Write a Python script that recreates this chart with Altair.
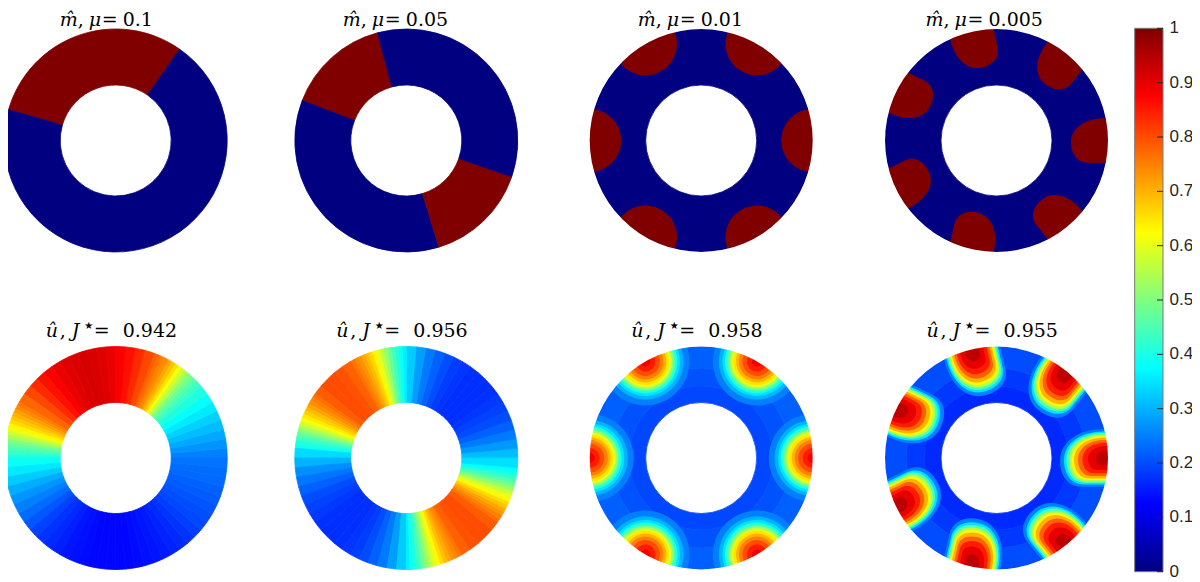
import math
import altair as alt
import pandas as pd

# ------------------------------------------------------------------
# Values
# (angles in degrees, counter-clockwise from the positive x axis)
# ------------------------------------------------------------------
MU_LABELS = ["0.1", "0.05", "0.01", "0.005"]
J_LABELS = ["0.942", "0.956", "0.958", "0.955"]

# panel 1 : m-hat, mu = 0.1  (two sectors)
M1_START = [55, 164]
M1_END = [164, 415]
M1_VALUE = [1, 0]
# panel 2 : m-hat, mu = 0.05 (four sectors)
M2_START = [105, 159, 287, 341]
M2_END = [159, 287, 341, 465]
M2_VALUE = [1, 0, 1, 0]
# panel 3 : m-hat, mu = 0.01 (six half-discs on the outer rim)
M3_BLOB_ANGLE = [0, 60, 120, 180, 240, 300]
M3_BLOB_RADIUS = [0.283] * 6          # in units of the outer radius
# panel 4 : m-hat, mu = 0.005 (seven lobes on the outer rim)
M4_BLOB_ANGLE = [0, 51, 103, 154, 206, 257, 309]
M4_BLOB_DEPTH = [0.332] * 7

# panel 5 : u-hat, angular slices (finer where the field changes quickly)
U5_EDGE = (list(range(0, 40, 5)) + list(range(40, 70, 2)) + list(range(70, 150, 5))
           + list(range(150, 180, 2)) + list(range(180, 361, 5)))
U5_VALUE = [0.25, 0.27, 0.29, 0.31, 0.33, 0.355, 0.38, 0.405,
            0.425, 0.44, 0.46, 0.48, 0.51, 0.545, 0.58, 0.62, 0.655, 0.685, 0.71, 0.735,
            0.75, 0.765, 0.78,
            0.805, 0.835, 0.86, 0.88, 0.895, 0.905, 0.91, 0.915, 0.91, 0.905, 0.895, 0.88,
            0.86, 0.835, 0.805, 0.775,
            0.755, 0.74, 0.72, 0.70, 0.68, 0.66, 0.635, 0.61, 0.575, 0.54, 0.505, 0.475,
            0.45, 0.43, 0.41,
            0.385, 0.355, 0.325, 0.295, 0.27, 0.25, 0.23, 0.21, 0.19, 0.175, 0.165, 0.155,
            0.145, 0.14, 0.135, 0.13, 0.13, 0.13, 0.13, 0.13, 0.135, 0.14, 0.145, 0.15,
            0.158, 0.165, 0.175, 0.185, 0.195, 0.20, 0.208, 0.215, 0.22, 0.228, 0.232, 0.238]

# panel 6 : u-hat
U6_EDGE = (list(range(0, 90, 5)) + list(range(90, 120, 2)) + list(range(120, 145, 5))
           + list(range(145, 175, 2)) + list(range(175, 270, 5)) + list(range(270, 300, 2))
           + list(range(300, 325, 5)) + list(range(325, 355, 2)) + [355, 360])
U6_VALUE = [0.31, 0.275, 0.245, 0.22, 0.20, 0.19, 0.18, 0.172, 0.17, 0.17, 0.17, 0.177,
            0.185, 0.20, 0.22, 0.245, 0.28, 0.325,
            0.36, 0.385, 0.41, 0.44, 0.475, 0.52, 0.56, 0.60, 0.635, 0.665, 0.69, 0.71,
            0.73, 0.745, 0.76,
            0.78, 0.795, 0.80, 0.80, 0.785,
            0.765, 0.75, 0.735, 0.715, 0.69, 0.67, 0.645, 0.615, 0.58, 0.54, 0.50, 0.465,
            0.435, 0.41, 0.39,
            0.34, 0.30, 0.265, 0.24, 0.22, 0.20, 0.19, 0.18, 0.172, 0.17, 0.17, 0.17,
            0.177, 0.185, 0.20, 0.22, 0.245, 0.28, 0.325,
            0.36, 0.385, 0.41, 0.44, 0.475, 0.515, 0.555, 0.595, 0.63, 0.66, 0.69, 0.71,
            0.73, 0.745, 0.76,
            0.78, 0.795, 0.80, 0.80, 0.785,
            0.765, 0.75, 0.73, 0.71, 0.685, 0.66, 0.63, 0.60, 0.565, 0.525, 0.49, 0.455,
            0.425, 0.40, 0.375,
            0.345]

# panel 7 : u-hat background rings and contour levels around each rim blob
U7_RING_VALUE = [0.195, 0.205, 0.218]
U7_LEVEL = [0.25, 0.30, 0.35, 0.40, 0.45, 0.50, 0.55, 0.60, 0.65, 0.70, 0.75, 0.80, 0.85, 0.89]
U7_LEVEL_RADIUS = [0.395, 0.341, 0.309, 0.287, 0.269, 0.256, 0.242, 0.229, 0.211, 0.188,
                   0.161, 0.130, 0.090, 0.045]
# panel 8
U8_RING_VALUE = [0.165, 0.18, 0.20]
U8_LEVEL = [0.25, 0.35, 0.45, 0.55, 0.63, 0.70, 0.78, 0.85, 0.90, 0.94]
U8_LEVEL_DEPTH = [0.430, 0.395, 0.372, 0.350, 0.327, 0.305, 0.269, 0.229, 0.179, 0.108]

# colour bar
CBAR_TICKS = [0, 0.1, 0.2, 0.3, 0.4, 0.5, 0.6, 0.7, 0.8, 0.9, 1]
CBAR_LABELS = ["0", "0.1", "0.2", "0.3", "0.4", "0.5", "0.6", "0.7", "0.8", "0.9", "1"]

# ------------------------------------------------------------------
# Layout / style
# ------------------------------------------------------------------
W, H = 1184, 574
CX = [107.7, 398.3, 693.2, 988.5]
CY_TOP, CY_BOT = 132.5, 450.0
R_OUT, R_IN = 111.5, 55.5
RING_EDGES = [R_IN, 72, 90, R_OUT]
SERIF = "DejaVu Serif"
TSIZE = 19

JET_STOPS = [0, 0.125, 0.375, 0.625, 0.875, 1]
JET_COLORS = ["#000080", "#0000ff", "#00ffff", "#ffff00", "#ff0000", "#800000"]
JET = alt.Scale(type="linear", domain=JET_STOPS, range=JET_COLORS, interpolate="rgb")
THETA = alt.Scale(domain=[0, 360], range=[math.pi / 2, math.pi / 2 - 2 * math.pi])
SIZE = alt.Scale(type="pow", exponent=2, domain=[0, 1], range=[0, (2 * R_OUT) ** 2])
ANGLE = alt.Scale(domain=[0, 360], range=[90, -270])
D_SHAPE = ("M 0.6,-0.5 L 0.6,0.55 C 0.6,0.85 0.35,1 0.05,1 "
           "C -0.35,1 -0.6,0.6 -0.6,0.1 L -0.6,-0.5 Z")
ONE = pd.DataFrame({"k": [0]})

layers = []


def sector_layer(df, cx, cy, r_out=R_OUT, r_in=R_IN):
    return alt.Chart(df).mark_arc(radius=r_out, radius2=r_in, strokeWidth=0.8).encode(
        x=alt.value(cx), y=alt.value(cy),
        theta=alt.Theta("t0:Q", scale=THETA, stack=None),
        theta2="t1:Q",
        fill=alt.Fill("v:Q", scale=JET, legend=None),
        stroke=alt.Stroke("v:Q", scale=JET, legend=None),
    )


def slices(edges, values):
    return pd.DataFrame({"t0": edges[:-1], "t1": edges[1:], "v": values})


def blob_layer(df, cx, cy, shape):
    return alt.Chart(df).transform_calculate(
        px="cos(datum.a * PI / 180)", py="sin(datum.a * PI / 180)"
    ).mark_point(filled=True, opacity=1, shape=shape, strokeWidth=0).encode(
        x=alt.X("px:Q", scale=alt.Scale(domain=[-1, 1], range=[cx - R_OUT, cx + R_OUT]), axis=None),
        y=alt.Y("py:Q", scale=alt.Scale(domain=[-1, 1], range=[cy + R_OUT, cy - R_OUT]), axis=None),
        size=alt.Size("f:Q", scale=SIZE, legend=None),
        color=alt.Color("v:Q", scale=JET, legend=None),
        angle=alt.Angle("a:Q", scale=ANGLE, legend=None),
    )


def mask_layer(cx, cy):
    return alt.Chart(ONE).mark_arc(radius=R_OUT + 55, radius2=R_OUT, theta=0,
                                   theta2=2 * math.pi, fill="white", strokeWidth=0).encode(
        x=alt.value(cx), y=alt.value(cy))


def ring_layers(values, cx, cy):
    out = []
    for i, val in enumerate(values):
        df = pd.DataFrame({"t0": [0], "t1": [360], "v": [val]})
        out.append(sector_layer(df, cx, cy, RING_EDGES[i + 1], RING_EDGES[i]))
    return out


# panel 1, 2
layers.append(sector_layer(pd.DataFrame({"t0": M1_START, "t1": M1_END, "v": M1_VALUE}), CX[0], CY_TOP))
layers.append(sector_layer(pd.DataFrame({"t0": M2_START, "t1": M2_END, "v": M2_VALUE}), CX[1], CY_TOP))

# panel 3
layers.append(sector_layer(pd.DataFrame({"t0": [0], "t1": [360], "v": [0]}), CX[2], CY_TOP))
layers.append(blob_layer(pd.DataFrame({"a": M3_BLOB_ANGLE, "f": M3_BLOB_RADIUS, "v": [1] * 6}),
                         CX[2], CY_TOP, "circle"))
layers.append(mask_layer(CX[2], CY_TOP))

# panel 4
layers.append(sector_layer(pd.DataFrame({"t0": [0], "t1": [360], "v": [0]}), CX[3], CY_TOP))
layers.append(blob_layer(pd.DataFrame({"a": M4_BLOB_ANGLE, "f": M4_BLOB_DEPTH, "v": [1] * 7}),
                         CX[3], CY_TOP, D_SHAPE))
layers.append(mask_layer(CX[3], CY_TOP))

# panels 5, 6
layers.append(sector_layer(slices(U5_EDGE, U5_VALUE), CX[0], CY_BOT))
layers.append(sector_layer(slices(U6_EDGE, U6_VALUE), CX[1], CY_BOT))

# panel 7
layers += ring_layers(U7_RING_VALUE, CX[2], CY_BOT)
rows = []
for lev, rad in zip(U7_LEVEL, U7_LEVEL_RADIUS):
    for a in M3_BLOB_ANGLE:
        rows.append({"a": a, "f": rad, "v": lev})
layers.append(blob_layer(pd.DataFrame(rows), CX[2], CY_BOT, "circle"))
layers.append(mask_layer(CX[2], CY_BOT))

# panel 8
layers += ring_layers(U8_RING_VALUE, CX[3], CY_BOT)
rows = []
for lev, dep in zip(U8_LEVEL, U8_LEVEL_DEPTH):
    for a in M4_BLOB_ANGLE:
        rows.append({"a": a, "f": dep, "v": lev})
layers.append(blob_layer(pd.DataFrame(rows), CX[3], CY_BOT, D_SHAPE))
layers.append(mask_layer(CX[3], CY_BOT))


# titles
def txt(s, x, y, size=TSIZE, italic=False, font=SERIF, align="left"):
    return alt.Chart(ONE).mark_text(text=s, align=align, baseline="alphabetic", font=font,
                                    fontSize=size, fontStyle="italic" if italic else "normal",
                                    color="black").encode(x=alt.value(x), y=alt.value(y))


for i, mu in enumerate(MU_LABELS):
    x0 = CX[i] - 56 - 7.5 * (len(mu) - 3)
    y0 = 17.5
    layers += [txt("m\u0302", x0, y0, italic=True), txt(",", x0 + 18, y0),
               txt("\u03bc", x0 + 29, y0, italic=True), txt("=", x0 + 42, y0),
               txt(mu, x0 + 63, y0)]

for i, j in enumerate(J_LABELS):
    x0 = CX[i] - 70
    y0 = 328.7
    layers += [txt("\u00fb", x0, y0, italic=True), txt(",", x0 + 14, y0),
               txt("J", x0 + 26, y0, italic=True),
               txt("\u2605", x0 + 38.5, y0 - 8, size=10, font="DejaVu Sans"),
               txt("=", x0 + 48, y0), txt(j, x0 + 77, y0)]

# colour bar
CB_X0, CB_X1 = 1126.7, 1155.0
CB_Y = alt.Scale(domain=[0, 1], range=[563.7, 20.3])
jet_grad = alt.Gradient(
    gradient="linear", x1=0, x2=0, y1=1, y2=0,
    stops=[alt.GradientStop(color=c, offset=o) for c, o in zip(JET_COLORS, JET_STOPS)])
layers.append(alt.Chart(ONE).mark_rect(fill=jet_grad, stroke="#7a7a7a", strokeWidth=1).encode(
    x=alt.value(CB_X0), x2=alt.value(CB_X1),
    y=alt.Y(datum=1, type="quantitative", scale=CB_Y, axis=None), y2=alt.Y2(datum=0)))
cb_df = pd.DataFrame({"t": CBAR_TICKS, "lab": CBAR_LABELS})
layers.append(alt.Chart(cb_df).mark_rule(color="#262626", strokeWidth=1).encode(
    x=alt.value(CB_X1 - 6), x2=alt.value(CB_X1),
    y=alt.Y("t:Q", scale=CB_Y, axis=None)))
layers.append(alt.Chart(cb_df).mark_text(align="left", baseline="middle", font="Liberation Sans",
                                         fontSize=17, color="#262626").encode(
    x=alt.value(CB_X1 + 6.5), y=alt.Y("t:Q", scale=CB_Y, axis=None), text="lab:N"))

chart = alt.layer(*layers).properties(
    width=W, height=H, padding=0, autosize=alt.AutoSizeParams(type="none")
).resolve_scale(x="independent", y="independent").configure_view(stroke=None)

chart.save("out.html", embed_options={"renderer": "svg", "actions": False})
